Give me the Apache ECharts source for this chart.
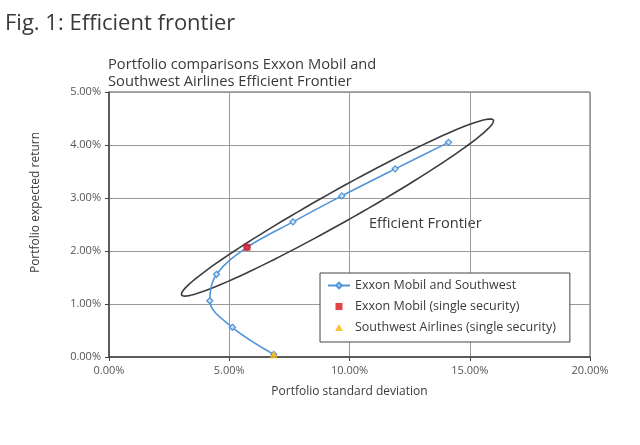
<!DOCTYPE html>
<html>
<head>
<meta charset="utf-8">
<script src="https://cdn.jsdelivr.net/npm/echarts@6/dist/echarts.min.js"></script>
<style>
html,body{margin:0;padding:0;background:#fff;}
#chart{width:640px;height:445px;}
</style>
</head>
<body>
<div id="chart"></div>
<script>
// Portfolio frontier (x: standard deviation %, y: expected return %)
const frontierSd = [6.85, 5.13, 4.19, 4.47, 5.74, 7.65, 9.68, 11.90, 14.12];
const frontierRet = [0.05, 0.56, 1.06, 1.56, 2.07, 2.55, 3.04, 3.55, 4.05];
const exxonPoint = [5.74, 2.07];
const southwestPoint = [6.85, 0.05];
const xTicks = [0, 5, 10, 15, 20];
const yTicks = [0, 1, 2, 3, 4, 5];
const seriesNames = ['Exxon Mobil and Southwest', 'Exxon Mobil (single security)', 'Southwest Airlines (single security)'];
// Annotation ellipse endpoints (data units) around the efficient part
const ellipseEnds = [3.02, 1.17, 15.98, 4.47];

const FONT = 'Open Sans';
const chart = echarts.init(document.getElementById('chart'));

const frontierData = frontierSd.map((x, i) => [x, frontierRet[i]]);
const pctFmt = v => v.toFixed(2) + '%';

chart.setOption({
  animation: false,
  textStyle: { fontFamily: FONT },
  title: [
    { text: 'Fig. 1: Efficient frontier', left: 0, top: 8,
      textStyle: { fontFamily: FONT, fontSize: 22, fontWeight: 'normal', color: '#3a3a3a' } },
    { text: 'Portfolio comparisons Exxon Mobil and\nSouthwest Airlines Efficient Frontier', left: 103, top: 51,
      textStyle: { fontFamily: FONT, fontSize: 14.7, fontWeight: 'normal', color: '#3a3a3a', lineHeight: 17 } }
  ],
  grid: { left: 109, right: 50, top: 92, bottom: 88, show: true, borderColor: '#555', borderWidth: 1 },
  xAxis: {
    type: 'value', min: xTicks[0], max: xTicks[xTicks.length - 1], interval: 5,
    name: 'Portfolio standard deviation', nameLocation: 'middle', nameGap: 29,
    nameTextStyle: { fontFamily: FONT, fontSize: 12, color: '#3a3a3a' },
    axisLine: { lineStyle: { color: '#444', width: 1.5 } },
    axisTick: { show: true, length: 4, lineStyle: { color: '#444' } },
    axisLabel: { formatter: pctFmt, fontFamily: FONT, fontSize: 11, color: '#555', margin: 8 },
    splitLine: { show: true, lineStyle: { color: '#9a9a9a', width: 1 } }
  },
  yAxis: {
    type: 'value', min: yTicks[0], max: yTicks[yTicks.length - 1], interval: 1,
    name: 'Portfolio expected return', nameLocation: 'middle', nameGap: 67,
    nameTextStyle: { fontFamily: FONT, fontSize: 12, color: '#3a3a3a', padding: [0, 0, 0, 44] },
    axisLine: { show: true, lineStyle: { color: '#444', width: 1.5 } },
    axisTick: { show: true, length: 4, lineStyle: { color: '#444' } },
    axisLabel: { formatter: pctFmt, fontFamily: FONT, fontSize: 11, color: '#555', margin: 8 },
    splitLine: { show: true, lineStyle: { color: '#9a9a9a', width: 1 } }
  },
  legend: {
    orient: 'vertical', left: 320, top: 273,
    data: [
      { name: seriesNames[0] },
      { name: seriesNames[1], icon: 'path://M0,0H10V10H0Z' },
      { name: seriesNames[2], icon: 'path://M5,0L10,9H0Z' }
    ],
    symbolKeepAspect: true,
    backgroundColor: '#fff', borderColor: '#444', borderWidth: 1,
    padding: [6, 14, 8, 7],
    itemWidth: 22, itemHeight: 7, itemGap: 8,
    textStyle: { fontFamily: FONT, fontSize: 12.5, color: '#3a3a3a' }
  },
  graphic: [
    { type: 'text', left: 369, top: 216, silent: true,
      style: { text: 'Efficient Frontier', fontFamily: FONT, fontSize: 14.6, fill: '#3a3a3a' } }
  ],
  series: [
    {
      type: 'custom', name: 'ellipse', silent: true, coordinateSystem: 'cartesian2d',
      encode: { x: [0, 2], y: [1, 3] },
      data: [ellipseEnds],
      z: 1,
      renderItem: function (params, api) {
        const p1 = api.coord([api.value(0), api.value(1)]);
        const p2 = api.coord([api.value(2), api.value(3)]);
        const cx = (p1[0] + p2[0]) / 2, cy = (p1[1] + p2[1]) / 2;
        const a = Math.hypot(p2[0] - p1[0], p2[1] - p1[1]) / 2;
        const b = 16;
        const th = Math.atan2(p2[1] - p1[1], p2[0] - p1[0]);
        const pts = [];
        for (let k = 0; k < 120; k++) {
          const t = k / 120 * Math.PI * 2;
          const ex = a * Math.cos(t), ey = b * Math.sin(t);
          pts.push([cx + ex * Math.cos(th) - ey * Math.sin(th), cy + ex * Math.sin(th) + ey * Math.cos(th)]);
        }
        return { type: 'polygon', shape: { points: pts }, style: { fill: 'none', stroke: '#3c3c3c', lineWidth: 1.6 } };
      }
    },
    {
      type: 'line', name: seriesNames[0], data: frontierData, smooth: 0.35, z: 3,
      symbol: 'diamond', symbolSize: 6, showAllSymbol: true,
      lineStyle: { color: '#5195d8', width: 1.6 },
      itemStyle: { color: '#cfe2f5', borderColor: '#5195d8', borderWidth: 1.3 }
    },
    {
      type: 'scatter', name: seriesNames[1], data: [exxonPoint], z: 4,
      symbol: 'rect', symbolSize: 7, itemStyle: { color: '#e0101a' }
    },
    {
      type: 'scatter', name: seriesNames[2], data: [southwestPoint], z: 4,
      symbol: 'triangle', symbolSize: 8, itemStyle: { color: '#f7b500' }
    }
  ]
});
</script>
</body>
</html>
